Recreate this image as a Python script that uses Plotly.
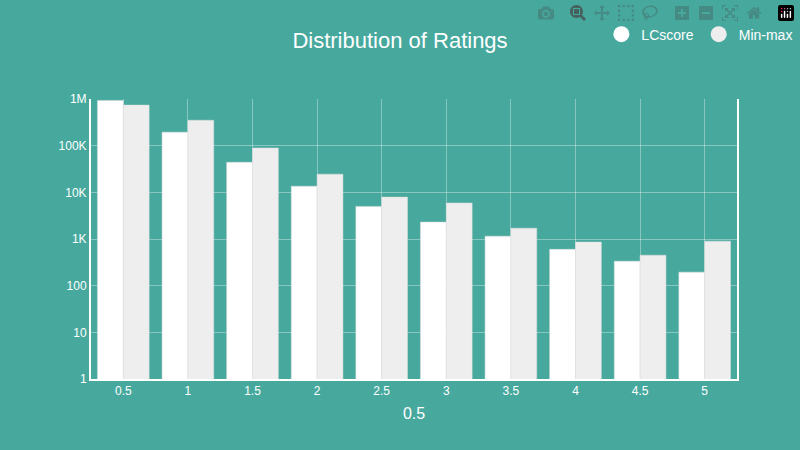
import plotly.graph_objects as go

categories = ["0.5", "1", "1.5", "2", "2.5", "3", "3.5", "4", "4.5", "5"]
lcscore = [930000, 195000, 44000, 13500, 5000, 2300, 1150, 600, 335, 195]
minmax = [740000, 350000, 89000, 24500, 7900, 5900, 1700, 860, 450, 900]
tick_vals = [1, 10, 100, 1000, 10000, 100000, 1000000]
tick_text = ["1", "10", "100", "1K", "10K", "100K", "1M"]

bg = "#47A99E"
fig = go.Figure()
fig.add_trace(go.Bar(x=categories, y=lcscore, name="LCscore", marker=dict(color="#FFFFFF", line=dict(color="#DDDDDD", width=0.5)), showlegend=False))
fig.add_trace(go.Bar(x=categories, y=minmax, name="Min-max", marker=dict(color="#EEEEEE", line=dict(color="#DDDDDD", width=0.5)), showlegend=False))
fig.add_trace(go.Scatter(x=[None], y=[None], mode="markers", name="LCscore", marker=dict(symbol="circle", size=16, color="#FFFFFF")))
fig.add_trace(go.Scatter(x=[None], y=[None], mode="markers", name="Min-max", marker=dict(symbol="circle", size=16, color="#EEEEEE")))

fig.update_layout(
    width=800, height=450,
    paper_bgcolor=bg, plot_bgcolor=bg,
    font=dict(family="Liberation Sans, Arial", color="white", size=12),
    title=dict(text="Distribution of Ratings", x=0.5, xanchor="center", y=1 - 40 / 450, yanchor="middle", font=dict(size=22, color="white")),
    margin=dict(l=91, r=63, t=99, b=71, autoexpand=False),
    bargap=0.2, bargroupgap=0,
    legend=dict(orientation="h", x=1.095, xanchor="right", y=1.23, yanchor="middle", font=dict(size=14, color="white"), bgcolor="rgba(0,0,0,0)", itemwidth=30),
    xaxis=dict(title=dict(text="0.5", font=dict(size=16, color="white"), standoff=10), showgrid=True, gridcolor="rgba(255,255,255,0.35)",
               showline=True, linecolor="white", linewidth=2, mirror=False, tickfont=dict(size=12, color="white"), ticks=""),
    yaxis=dict(type="log", range=[0, 6], tickvals=tick_vals, ticktext=tick_text, showgrid=True, gridcolor="rgba(255,255,255,0.35)",
               showline=True, linecolor="white", linewidth=2, mirror=True, ticks="", tickfont=dict(size=12, color="white"), zeroline=False),
)
fig.write_html("out.html", post_script="document.body.style.margin='0';document.body.style.background='%s';" % bg)
